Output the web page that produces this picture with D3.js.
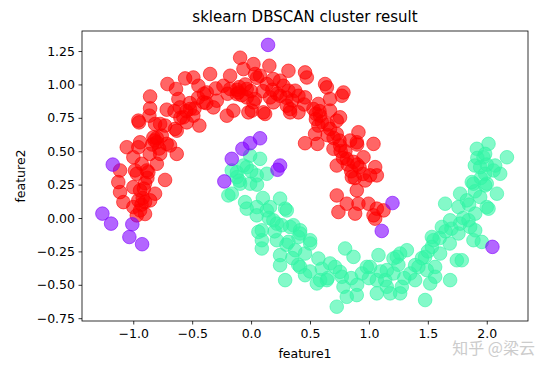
<!DOCTYPE html>
<html>
<head>
<meta charset="utf-8">
<script src="https://cdn.jsdelivr.net/npm/d3@7"></script>
<style>
  body { margin: 0; background: #fff; }
  text { font-family: "DejaVu Sans", sans-serif; }
</style>
</head>
<body>
<svg id="chart" width="549" height="371"></svg>
<script>
// puntos del cluster 0 (rojo)
var cluster0 = [
  [-0.093,1.20],[-0.065,1.115],[-0.348,1.078],[-0.178,1.065],[-0.56,1.045],[-0.49,1.052],[-0.71,1.003],[-0.637,0.966],
  [-0.447,0.99],[-0.376,0.94],[-0.235,0.99],[-0.178,0.966],[-0.108,0.94],[-0.037,0.966],[-0.857,0.91],[-0.291,0.878],
  [-0.405,0.866],[-0.617,0.891],[-0.716,0.811],[-0.603,0.828],[-0.518,0.816],[-0.49,0.766],[-0.575,0.754],[-0.546,0.716],
  [-0.439,0.692],[-0.857,0.821],[-0.863,0.766],[-0.951,0.716],[-0.815,0.704],[-0.73,0.692],[-0.645,0.667],[-0.206,0.766],
  [-0.15,0.804],[-0.023,0.791],[-0.758,0.617],[-0.80,0.567],[-0.688,0.543],[-0.942,0.567],[-1.055,0.53],
  [0.02,1.152],[0.155,1.14],[0.317,1.102],[0.034,1.078],[0.133,1.003],[0.246,1.028],[0.458,1.09],[-0.121,0.928],
  [-0.037,0.903],[0.02,0.866],[0.104,0.791],[0.006,0.804],[0.161,0.903],[0.246,0.915],[0.331,0.816],[0.402,0.791],
  [0.317,0.953],[0.402,0.915],[-0.32,0.828],[-0.957,0.729],[-0.772,0.704],[-0.631,0.654],[-0.829,0.604],[-0.716,0.555],
  [-0.631,0.48],[-0.957,0.53],[-0.999,0.455],[-0.928,0.406],[-0.80,0.406],[-0.772,0.48],[-0.73,0.285],[-1.112,0.356],
  [-0.985,0.356],[-0.885,0.356],[0.458,0.56],
  [-0.97,0.331],[-0.872,0.343],[-1.127,0.269],[-0.999,0.231],[-0.942,0.207],[-1.112,0.194],[-0.815,0.182],[-1.084,0.119],
  [-0.857,0.132],[-0.957,0.132],[-0.999,0.082],[-0.942,0.057],[-0.97,0.02],
  [0.473,1.052],[0.628,1.003],[0.643,0.978],[0.784,0.94],[0.77,0.915],[0.67,0.891],[0.571,0.854],[0.529,0.816],
  [0.458,0.903],[0.374,0.953],[0.274,0.99],[0.189,1.04],[0.076,1.065],[0.034,0.891],[0.189,0.866],[0.303,0.841],
  [0.331,0.791],[0.119,0.779],[0.586,0.766],[0.67,0.804],[0.727,0.729],[0.755,0.754],[0.571,0.692],[0.543,0.63],
  [0.67,0.667],[0.727,0.63],[0.755,0.543],[0.911,0.642],[0.897,0.567],[1.039,0.555],[0.563,0.555],
  [0.699,0.518],[0.727,0.393],[0.855,0.306],[0.954,0.455],[1.053,0.381],[1.01,0.319],[0.84,0.58],
  [0.812,0.443],[0.968,0.281],[1.067,0.319],[0.897,0.207],[0.727,0.169],[0.812,0.107],[0.911,0.107],[0.996,0.107],
  [0.741,0.045],[0.883,0.033],[1.039,0.02],[1.124,0.057],[1.067,0.07],[1.053,-0.005],
  [-0.82,0.58],[-0.78,0.52],[-0.86,0.48],[-0.9,0.26],[-0.92,0.15],[-0.93,0.1],[-0.9,0.03],[-0.6,0.75],[-0.55,0.8],
  [-0.65,0.8],[-0.45,0.9],[-0.4,0.93],[-0.3,0.97],[-0.2,0.93],[-0.1,0.98],[-0.05,1.0],[0.05,1.05],[0.1,0.95],
  [0.3,0.9],[0.35,0.88],[0.45,0.85],[0.55,0.78],[0.6,0.72],[0.65,0.7],[0.7,0.6],[0.75,0.58],[0.8,0.5],[0.82,0.4],
  [0.85,0.35],[0.9,0.4],[0.88,0.3],[0.95,0.33],[0.9,0.55],[0.65,0.62],
  [-0.84,0.55],[-0.8,0.6],[-0.88,0.3],[-0.91,0.22],[-0.9,0.12],[-0.52,0.86],[-0.48,0.82],[-0.12,0.96],[-0.08,0.92],
  [0.18,0.96],[0.22,0.93],[0.55,0.74],[0.58,0.8],[0.78,0.45],[0.76,0.5],[0.92,0.38],[0.87,0.42],[-0.38,0.86],[0.0,0.95]
];

// puntos del cluster 1 (verde agua)
var cluster1 = [
  [0.076,0.443],[-0.008,0.468],[-0.065,0.393],[-0.121,0.343],[-0.164,0.182],[-0.008,0.257],[0.048,0.319],[0.133,0.331],
  [-0.051,0.119],[0.048,0.082],[0.133,0.057],[0.246,0.145],[0.289,0.07],[0.189,-0.017],[0.261,-0.054],[0.359,-0.054],
  [0.062,-0.104],[0.091,-0.166],[0.091,-0.228],[0.218,-0.166],[0.317,-0.179],[0.402,-0.142],[0.501,-0.166],[0.374,-0.241],
  [0.458,-0.266],[0.246,-0.278],[0.246,-0.353],[0.289,-0.465],[0.416,-0.366],[0.458,-0.428],[0.571,-0.303],[0.558,-0.49],
  [0.643,-0.465],[0.67,-0.34],[0.798,-0.228],[0.869,-0.291],[0.755,-0.403],[0.784,-0.515],[0.727,-0.664],[0.897,-0.577],
  [0.94,-0.415],[1.01,-0.366],[1.081,-0.278],[1.067,-0.465],[1.152,-0.515],[1.208,-0.415],[1.237,-0.291],[0.812,-0.59],
  [0.416,-0.092],[0.501,-0.191],[1.265,-0.266],[1.322,-0.241],[0.586,-0.465],[0.713,-0.366],[0.77,-0.44],[0.982,-0.366],
  [1.067,-0.564],[1.152,-0.39],[1.265,-0.564],[1.35,-0.415],[1.392,-0.353],[1.477,-0.614],[1.491,-0.39],[1.562,-0.366],
  [1.604,-0.266],[1.689,-0.465],[1.746,-0.316],[1.548,-0.166],[1.619,-0.067],[1.689,-0.017],[1.774,-0.042],[1.859,-0.067],
  [1.958,-0.179],[1.887,-0.166],[1.774,0.182],[1.647,0.107],[1.831,0.132],[1.887,0.257],[1.944,0.157],[2.0,0.082],
  [2.0,0.257],[2.086,0.182],[2.114,0.331],[2.071,0.393],[1.972,0.455],[2.171,0.455],[1.916,0.518],[2.015,0.555],
  [1.986,0.48],[1.899,0.393],[1.986,0.331],[1.873,0.269],[1.986,0.244],[1.76,0.082],[2.015,0.07],[1.902,0.033],
  [1.845,-0.017],[1.902,-0.092],[1.76,-0.116],[1.534,-0.142],[1.686,-0.191],[1.534,-0.216],[1.788,-0.316],[1.208,-0.303],
  [1.477,-0.291],[1.562,-0.44],[1.42,-0.366],[1.392,-0.465],[1.279,-0.515],[1.18,-0.564],[1.52,-0.49],[1.138,-0.465],
  [-0.164,0.356],[-0.193,0.169],[-0.093,0.257],[-0.037,0.381],[-0.121,0.306],[-0.037,0.07],[0.048,0.02],[0.091,-0.092],
  [0.161,0.082],[0.303,0.057],[0.218,-0.042],[0.331,-0.067],[0.416,-0.116],[1.944,0.381],[2.057,0.356],
  [0.0,0.35],[0.05,0.25],[-0.1,0.28],[0.1,0.15],[0.15,0.0],[0.2,-0.1],[0.3,-0.2],[0.35,-0.3],[0.4,-0.35],[0.5,-0.4],
  [0.6,-0.38],[0.65,-0.45],[0.85,-0.45],[0.9,-0.5],[1.0,-0.45],[1.1,-0.4],[1.25,-0.35],[1.3,-0.45],[1.45,-0.3],
  [1.5,-0.25],[1.6,-0.15],[1.65,-0.1],[1.7,-0.08],[1.8,0.0],[1.85,0.1],[1.9,0.2],[1.95,0.3],[1.92,0.45],[2.0,0.4]
];

// puntos de ruido (etiqueta -1)
var ruido = [
  [0.144,1.296],[-1.174,0.40],[-1.262,0.033],[-1.188,-0.042],[-1.008,-0.047],[-1.033,-0.142],[-0.925,-0.196],
  [-0.164,0.443],[-0.074,0.518],[-0.008,0.56],[0.076,0.597],[0.246,0.393],[0.224,0.361],[-0.227,0.274],
  [1.2,0.112],[1.109,-0.097],[2.048,-0.216]
];

var xTicks = [-1.0, -0.5, 0.0, 0.5, 1.0, 1.5, 2.0];
var yTicks = [-0.75, -0.5, -0.25, 0.0, 0.25, 0.5, 0.75, 1.0, 1.25];

// colores
var colRuido = "rgb(128,0,255)";
var colC1 = "rgb(50,245,165)";
var colC0 = "rgb(255,0,0)";

var margin = { left: 82, right: 21, top: 31, bottom: 50 };
var width = 549, height = 371;

var svg = d3.select("#chart");

var x = d3.scaleLinear().domain([-1.435, 2.35]).range([margin.left, width - margin.right]);
var y = d3.scaleLinear().domain([-0.771, 1.40]).range([height - margin.bottom, margin.top]);

function fmt(d, n) {
  return d3.format("." + n + "f")(d).replace("-", "\u2212");
}

// puntos
function dibujar(datos, color) {
  svg.append("g").selectAll("circle")
    .data(datos)
    .enter().append("circle")
    .attr("cx", d => x(d[0]))
    .attr("cy", d => y(d[1]))
    .attr("r", 6.8)
    .attr("fill", color)
    .attr("fill-opacity", 0.6)
    .attr("stroke", color)
    .attr("stroke-opacity", 0.6)
    .attr("stroke-width", 1);
}
dibujar(cluster0, colC0);
dibujar(cluster1, colC1);
dibujar(ruido, colRuido);

// ejes
var xAxis = svg.append("g")
  .attr("transform", "translate(0," + (height - margin.bottom) + ")")
  .call(d3.axisBottom(x).tickValues(xTicks).tickSize(3.5).tickSizeOuter(0).tickPadding(5).tickFormat(d => fmt(d, 1)));
var yAxis = svg.append("g")
  .attr("transform", "translate(" + margin.left + ",0)")
  .call(d3.axisLeft(y).tickValues(yTicks).tickSize(3.5).tickSizeOuter(0).tickPadding(3.5).tickFormat(d => fmt(d, 2)));

[xAxis, yAxis].forEach(function (g) {
  g.select(".domain").remove();
  g.selectAll("text").style("font-size", "12.5px").attr("fill", "#000");
  g.selectAll("line").attr("stroke", "#000").attr("stroke-width", 0.8);
});

// marco
svg.append("rect")
  .attr("x", margin.left).attr("y", margin.top)
  .attr("width", width - margin.left - margin.right)
  .attr("height", height - margin.top - margin.bottom)
  .attr("fill", "none").attr("stroke", "#000").attr("stroke-width", 0.8);

// textos
var cx = (margin.left + width - margin.right) / 2;
svg.append("text").attr("x", cx).attr("y", 22).attr("text-anchor", "middle")
  .style("font-size", "15px").text("sklearn DBSCAN cluster result");
svg.append("text").attr("x", cx).attr("y", 358).attr("text-anchor", "middle")
  .style("font-size", "12.5px").text("feature1");
svg.append("text").attr("transform", "translate(25,176) rotate(-90)").attr("text-anchor", "middle")
  .style("font-size", "12.5px").text("feature2");

// marca de agua
svg.append("text").attr("x", 535).attr("y", 354).attr("text-anchor", "end")
  .style("font-family", "'Noto Sans CJK SC', sans-serif")
  .style("font-size", "16px").attr("fill", "#cccccc").text("知乎 @梁云");
</script>
</body>
</html>
